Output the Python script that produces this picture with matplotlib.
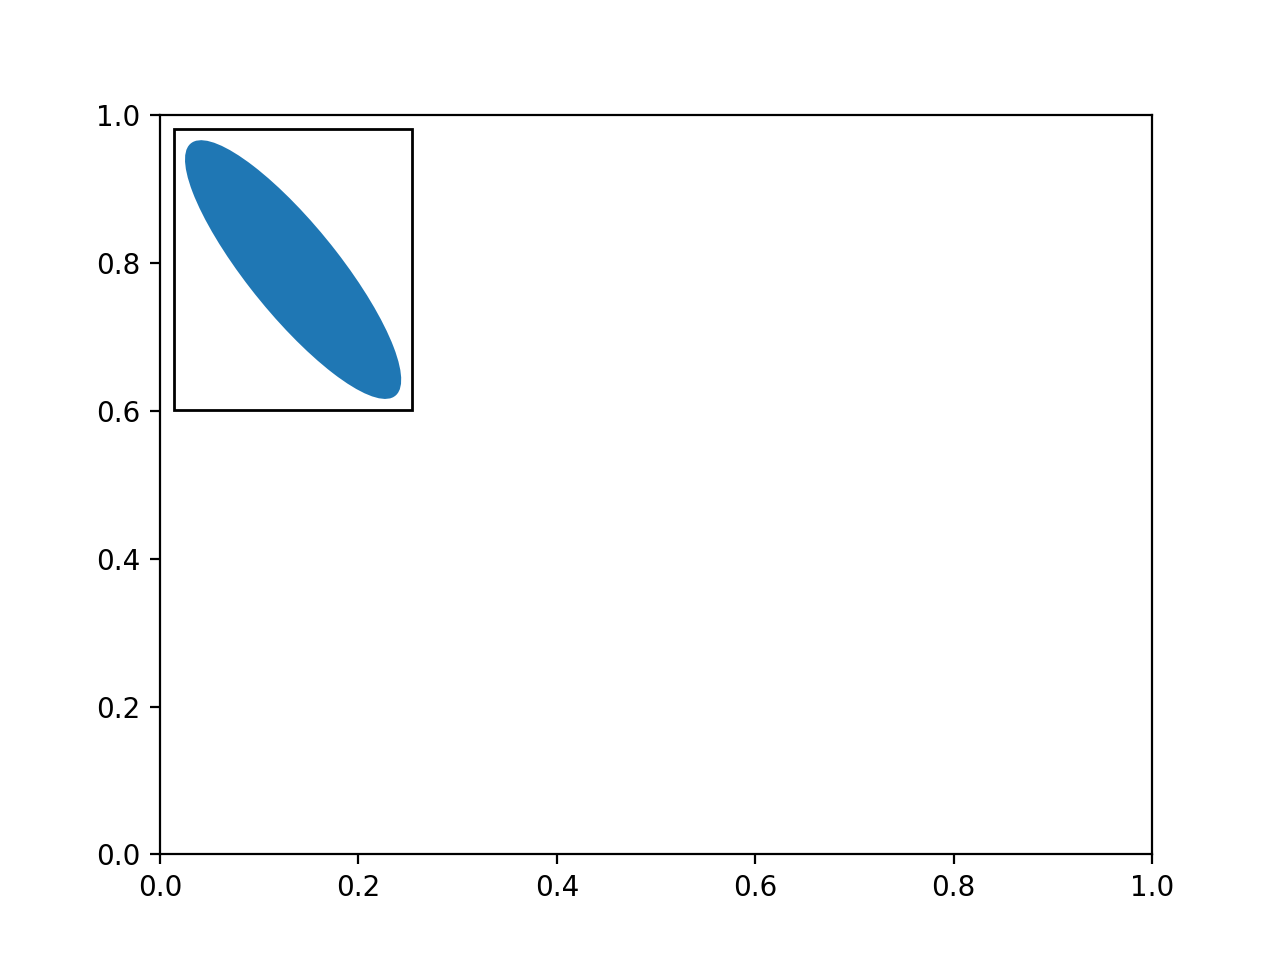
import matplotlib
matplotlib.use("Agg")
import matplotlib.pyplot as plt
from matplotlib.patches import Ellipse
from mpl_toolkits.axes_grid1.anchored_artists import AnchoredAuxTransformBox

# ellipse size in data coordinates
ell_width = 0.1
ell_height = 0.4
ell_angle = 30.0

fig, ax = plt.subplots(figsize=(6.4, 4.8), dpi=200)

box = AnchoredAuxTransformBox(ax.transData, loc='upper left', pad=0.4,
                              borderpad=0.5, frameon=True)
box.drawing_area.add_artist(Ellipse((0, 0), width=ell_width, height=ell_height,
                                    angle=ell_angle))
ax.add_artist(box)

fig.savefig("out.png")
